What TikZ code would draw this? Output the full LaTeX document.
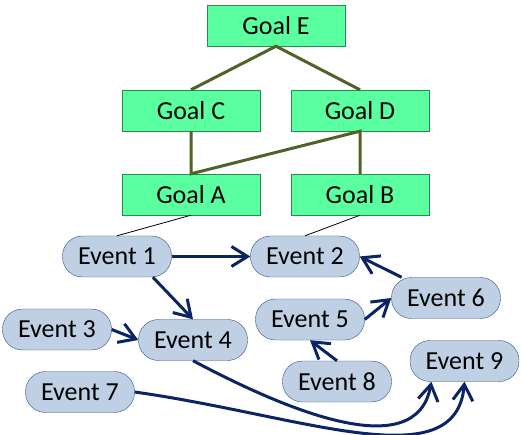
\documentclass[tikz,border=0pt]{standalone}
\usepackage{fontspec}
\setmainfont{Carlito}
\usetikzlibrary{arrows.meta}
\definecolor{goalfill}{RGB}{90,255,160}
\definecolor{goaldraw}{RGB}{40,140,80}
\definecolor{goalline}{RGB}{79,98,40}
\definecolor{eventfill}{RGB}{192,208,228}
\definecolor{eventdraw}{RGB}{50,80,135}
\definecolor{navy}{RGB}{10,36,100}
\tikzset{>={Straight Barb[length=16pt,width=20pt]}}

\begin{document}
\begin{tikzpicture}[x=1pt,y=1pt,
    goal/.style={draw=goaldraw,fill=goalfill,minimum width=138pt,minimum height=41pt,
      inner sep=0pt,font=\fontsize{26}{30}\selectfont},
    event/.style={draw=eventdraw,fill=eventfill,minimum width=109pt,minimum height=41pt,
      rounded corners=20pt,inner sep=0pt,font=\fontsize{26}{30}\selectfont},
    link/.style={goalline,line width=3pt},
    cause/.style={->,navy,line width=3pt}]
  % frame
  \useasboundingbox (0,0) rectangle (522,434);

  % goals
  \node[goal] (E) at (276,408.5) {Goal E};
  \node[goal] (C) at (191,323.5) {Goal C};
  \node[goal] (D) at (360,323.5) {Goal D};
  \node[goal] (A) at (191,239.5) {Goal A};
  \node[goal] (B) at (360,239.5) {Goal B};

  % events
  \node[event] (ev1) at (117,177.5) {Event 1};
  \node[event] (ev2) at (305,177.5) {Event 2};
  \node[event] (ev3) at (57,104.5)  {Event 3};
  \node[event] (ev4) at (193,94)    {Event 4};
  \node[event] (ev5) at (310,114.5) {Event 5};
  \node[event] (ev6) at (446,136)   {Event 6};
  \node[event] (ev7) at (80,42)     {Event 7};
  \node[event] (ev8) at (337,52.5)  {Event 8};
  \node[event] (ev9) at (464.5,73)  {Event 9};

  % goal tree
  \draw[link] (C.north) -- (E.south) -- (D.north);
  \draw[link] (C.south) -- (A.north) -- (D.south) -- (B.north);

  % goals to events
  \draw[line width=0.8pt] (A.south) -- (ev1.north);
  \draw[line width=0.8pt] (B.south) -- (ev2.north);

  % causes
  \draw[cause] (ev1.east) -- (ev2.west);
  \draw[cause] (ev1.-30) -- (ev4.north);
  \draw[cause] (ev3.east) -- (ev4.west);
  \draw[cause] (ev6.155) -- (ev2.east);
  \draw[cause] (ev5.east) -- (ev6.west);
  \draw[cause] (ev8.north) -- (ev5.south);
  \draw[cause] (ev4.south) to[out=-28,in=-100,out distance=105pt,in distance=85pt] (ev9.-148);
  \draw[cause] (ev7.east) to[out=-8,in=-95,out distance=170pt,in distance=98pt] (ev9.south);
\end{tikzpicture}
\end{document}
